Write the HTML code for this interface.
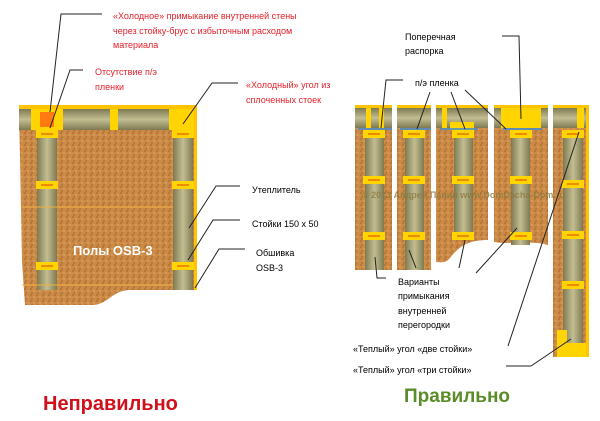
<!DOCTYPE html>
<html><head><meta charset="utf-8"><style>
html,body{margin:0;padding:0;background:#fff;width:600px;height:421px;overflow:hidden}
svg{display:block}
text{font-family:"Liberation Sans",sans-serif;font-size:9px}
.r{fill:#e8202a}
</style></head><body>
<svg width="600" height="421" viewBox="0 0 600 421">
<defs>
<pattern id="dots" width="6" height="6" patternUnits="userSpaceOnUse">
<rect width="6" height="6" fill="#cc8a47"/>
<circle cx="1" cy="1" r=".9" fill="#a9692e"/><circle cx="4" cy="3" r=".8" fill="#e3a868"/><circle cx="2" cy="5" r=".7" fill="#9c5f28"/>
</pattern>
<linearGradient id="sv" x1="0" x2="1"><stop offset="0" stop-color="#7d7a52"/><stop offset=".5" stop-color="#c4bd92"/><stop offset="1" stop-color="#7d7a52"/></linearGradient>
<linearGradient id="sh" x1="0" x2="0" y1="0" y2="1"><stop offset="0" stop-color="#7d7a52"/><stop offset=".5" stop-color="#c4bd92"/><stop offset="1" stop-color="#7d7a52"/></linearGradient>
<g id="yb"><rect width="22" height="8" fill="#ffd400"/><rect x="5" y="3" width="12" height="2" fill="#f08a00"/></g>
</defs>

<!-- LEFT PANEL -->
<path d="M19,105 L197,105 L197,290 L130,290 C112,290 108,305 92,305 L25,305 L22,262 Z" fill="url(#dots)"/>
<rect x="19" y="105" width="178" height="4" fill="#ffc400"/>
<rect x="194" y="105" width="3" height="185" fill="#ffc400"/>
<rect x="19" y="109" width="175" height="21" fill="url(#sh)"/>
<rect x="31" y="109" width="32" height="21" fill="#ffd400"/><rect x="40" y="112" width="14" height="15" fill="#ff7a10"/>
<rect x="110" y="109" width="8" height="21" fill="#ffd400"/>
<rect x="169" y="109" width="25" height="21" fill="#ffd400"/>
<rect x="37" y="130" width="20" height="160" fill="url(#sv)"/>
<rect x="173" y="130" width="20" height="160" fill="url(#sv)"/>
<use href="#yb" x="36" y="130"/><use href="#yb" x="172" y="130"/>
<use href="#yb" x="36" y="181"/><use href="#yb" x="172" y="181"/>
<use href="#yb" x="36" y="262"/><use href="#yb" x="172" y="262"/>
<line x1="22" y1="207" x2="173" y2="207" stroke="#f0b040" stroke-width="1"/>
<line x1="22" y1="285" x2="173" y2="285" stroke="#f0b040" stroke-width="1"/>
<text x="73" y="255" fill="#fff" font-weight="bold" style="font-size:13px">Полы OSB-3</text>

<g stroke="#222" stroke-width="1" fill="none">
<path d="M102,14 H61 L50,112"/><path d="M83,70 H70 L50,128"/>
<path d="M238,83 H212 L183,124"/>
<path d="M240,186 H216 L189,228"/><path d="M240,220 H213 L188,260"/><path d="M245,249 H219 L195,288"/>
</g>
<text class="r" x="113" y="19">«Холодное» примыкание внутренней стены</text>
<text class="r" x="113" y="34">через стойку-брус с избыточным расходом</text>
<text class="r" x="113" y="48">материала</text>
<text class="r" x="95" y="75">Отсутствие п/э</text>
<text class="r" x="95" y="90">пленки</text>
<text class="r" x="246" y="88">«Холодный» угол из</text>
<text class="r" x="246" y="103">сплоченных стоек</text>
<text x="252" y="193">Утеплитель</text>
<text x="252" y="227">Стойки 150 х 50</text>
<text x="256" y="256">Обшивка</text>
<text x="256" y="271">OSB-3</text>
<text x="43" y="410" fill="#d0101a" font-weight="bold" style="font-size:20px">Неправильно</text>

<!-- RIGHT PANELS -->
<path d="M355,105 H392 V270 H355 Z M397,105 H431 V270 H397 Z M436,105 H488 V240 C470,240 460,245 450,258 C445,264 440,262 436,262 Z M494,105 H548 V245 C530,240 510,245 494,242 Z M553,105 H589 V357 H553 Z" fill="url(#dots)"/>
<g fill="#ffc400">
<rect x="355" y="105" width="37" height="3"/><rect x="397" y="105" width="34" height="3"/><rect x="436" y="105" width="52" height="3"/><rect x="494" y="105" width="54" height="3"/><rect x="553" y="105" width="36" height="3"/>
<rect x="586" y="105" width="3" height="252"/>
</g>
<g fill="url(#sh)">
<rect x="355" y="108" width="37" height="20"/><rect x="397" y="108" width="34" height="20"/><rect x="436" y="108" width="52" height="20"/><rect x="494" y="108" width="54" height="20"/><rect x="553" y="108" width="33" height="20"/>
</g>
<g fill="#ffd400">
<rect x="366" y="108" width="5" height="20"/><rect x="379" y="108" width="5" height="20"/>
<rect x="442" y="108" width="5" height="20"/><rect x="450" y="122" width="24" height="8"/>
<rect x="501" y="108" width="40" height="20"/>
<rect x="577" y="108" width="7" height="20"/>
</g>
<g stroke="#3a8ad8" stroke-width="1.5">
<line x1="358" y1="129" x2="392" y2="129"/><line x1="400" y1="129" x2="431" y2="129"/><line x1="440" y1="129" x2="478" y2="129"/><line x1="503" y1="129" x2="542" y2="129"/>
</g>
<g fill="url(#sv)">
<rect x="365" y="130" width="19" height="140"/><rect x="405" y="130" width="19" height="140"/><rect x="454" y="130" width="19" height="110"/><rect x="511" y="130" width="19" height="115"/><rect x="563" y="130" width="20" height="220"/>
</g>
<use href="#yb" x="363" y="130"/><use href="#yb" x="403" y="130"/><use href="#yb" x="452" y="130"/><use href="#yb" x="510" y="130"/><use href="#yb" x="562" y="130"/>
<use href="#yb" x="363" y="176"/><use href="#yb" x="403" y="176"/><use href="#yb" x="452" y="176"/><use href="#yb" x="510" y="176"/><use href="#yb" x="562" y="180"/>
<use href="#yb" x="363" y="232"/><use href="#yb" x="403" y="232"/><use href="#yb" x="452" y="232"/><use href="#yb" x="510" y="232"/><use href="#yb" x="562" y="231"/>
<use href="#yb" x="562" y="281"/>
<rect x="557" y="330" width="10" height="27" fill="#ffd400"/><rect x="567" y="343" width="19" height="14" fill="#ffd400"/>
<text x="362" y="198" fill="#8a7a40" font-weight="bold" style="font-size:9px" opacity=".8">© 2013 Андрей Панин   www.DomDacha-Dom.ru</text>

<g stroke="#222" stroke-width="1" fill="none">
<path d="M403,80 H386 L381,128"/>
<path d="M430,92 L417,129"/><path d="M451,92 L465,129"/><path d="M465,90 L506,129"/>
<path d="M502,36 H519 L521,119"/>
<path d="M386,278 H377 L375,257"/><path d="M416,268 L409,250"/><path d="M459,268 L465,240"/><path d="M476,273 L517,228"/>
<path d="M508,346 L579,132"/>
<path d="M506,366 H531 L571,339"/>
</g>
<text x="405" y="40">Поперечная</text>
<text x="405" y="54">распорка</text>
<text x="415" y="86">п/э пленка</text>
<text x="398" y="285">Варианты</text>
<text x="398" y="299">примыкания</text>
<text x="398" y="314">внутренней</text>
<text x="398" y="328">перегородки</text>
<text x="353" y="352">«Теплый» угол «две стойки»</text>
<text x="353" y="373">«Теплый» угол «три стойки»</text>
<text x="404" y="402" fill="#5a8c28" font-weight="bold" style="font-size:19px">Правильно</text>
</svg>
</body></html>
